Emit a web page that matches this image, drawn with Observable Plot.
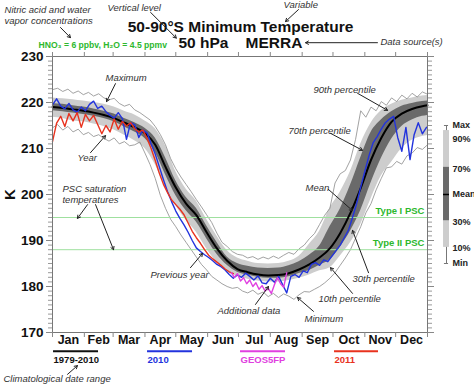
<!DOCTYPE html>
<html><head><meta charset="utf-8">
<script src="https://cdn.jsdelivr.net/npm/d3@7"></script>
<script src="https://cdn.jsdelivr.net/npm/@observablehq/plot@0.6"></script>
<style>body{margin:0;background:#fff}#chart svg{overflow:visible}</style>
</head><body><div id="chart"></div>
<script>
// ---------- data ----------
const months = ["Jan","Feb","Mar","Apr","May","Jun","Jul","Aug","Sep","Oct","Nov","Dec"];
const monthStart = [0,31,59,90,120,151,181,212,243,273,304,334,365];
const yMajor = [170,180,190,200,210,220,230];
const pscTypeI = 195, pscTypeII = 188;

// climatology 1979-2010, every 10 days (+ day 365)
const climDays = d3.range(0, 361, 10).concat([365]);
const climMean = [219.0,218.8,218.5,218.2,217.8,217.3,216.6,215.6,214.6,213.3,210.8,206.0,201.5,198.0,195.5,191.8,188.3,185.6,183.8,183.1,182.6,182.4,182.5,182.9,183.7,184.8,186.3,188.3,191.6,196.0,201.4,207.5,212.3,215.8,217.6,218.6,219.2,219.4];
const climP10 = [216.8,216.5,216.0,215.8,215.3,214.8,214.0,212.9,211.7,210.0,206.5,201.5,197.6,194.4,191.8,188.2,185.2,183.2,182.2,181.6,181.2,181.0,181.0,181.3,181.8,182.5,183.4,184.1,186.6,189.5,193.5,199.0,204.0,207.0,210.0,211.8,212.6,212.8];
const climP30 = [218.2,218.0,217.7,217.4,217.0,216.5,215.8,214.7,213.6,212.2,209.2,204.3,199.8,196.5,194.0,190.4,187.0,184.6,183.1,182.5,182.0,181.8,181.8,182.1,182.8,183.5,184.6,185.8,188.5,192.0,196.5,202.5,207.8,212.0,214.8,216.2,217.0,217.2];
const climP70 = [219.8,219.6,219.3,219.0,218.6,218.1,217.5,216.5,215.6,214.4,212.3,208.0,203.0,199.4,197.0,193.2,189.6,186.4,185.0,184.4,184.0,183.9,184.0,184.5,185.4,186.8,188.8,193.0,196.8,202.0,208.0,213.5,216.2,218.0,219.2,219.8,220.2,220.3];
const climP90 = [221.0,220.8,220.6,220.3,220.0,219.6,219.0,218.1,217.3,216.0,214.3,210.6,205.0,201.2,198.6,194.6,191.0,187.8,186.2,185.5,185.0,184.9,185.0,185.5,186.6,189.2,192.0,197.0,200.5,205.0,211.0,215.5,218.2,219.6,220.5,221.0,221.4,221.5];

// climatological max / min, every 5 days
const extDays = d3.range(0, 366, 5);
const climMax = [222.8,223.1,222.4,222.9,222.0,222.5,221.7,222.2,221.4,221.9,221.0,220.6,220.9,219.8,219.2,219.6,218.4,217.8,217.0,216.2,214.8,213.0,210.8,207.8,205.6,203.8,202.2,200.6,198.9,197.3,195.6,193.9,191.6,189.6,188.7,187.6,187.0,186.8,186.2,186.5,185.9,186.4,186.0,186.6,186.1,186.8,187.4,187.0,188.2,189.0,190.4,191.5,193.5,195.5,197.0,202.5,204.5,205.2,207.5,212.0,218.2,216.8,219.0,218.2,220.2,219.4,221.0,220.2,221.6,220.8,222.0,221.2,222.3,221.8];
const climMin = [214.5,215.2,214.0,214.8,213.6,214.2,213.0,213.5,212.6,213.0,212.2,211.6,212.3,211.0,211.5,210.6,210.8,211.4,209.0,206.5,203.5,199.8,197.0,194.6,193.0,191.2,189.6,188.0,186.4,184.8,183.6,182.2,181.4,180.6,180.0,179.6,179.8,179.0,178.6,179.2,178.3,178.8,177.8,178.5,177.6,178.4,177.9,177.2,178.2,178.9,178.8,179.4,180.0,180.8,181.8,183.0,184.6,186.2,188.0,190.5,193.0,196.0,198.0,201.0,203.5,205.8,206.0,207.2,206.6,208.4,209.0,210.2,209.8,210.8];

// 2010 (previous year), every 4 days
const days2010 = d3.range(0, 365, 4);
const t2010 = [219.5,220.8,219.2,218.6,219.8,218.4,217.9,219.0,218.2,219.6,220.3,218.7,219.2,218.0,217.2,216.6,217.8,216.5,212.0,215.6,215.2,212.4,214.0,213.4,211.0,208.8,206.0,203.2,200.6,198.4,196.4,194.8,193.4,191.8,190.0,188.4,187.6,186.9,186.3,185.6,184.8,184.3,183.6,182.6,181.8,182.5,182.0,182.9,182.2,181.4,182.3,180.8,180.6,181.8,180.9,182.2,180.4,178.6,182.2,182.6,182.0,183.4,183.0,184.8,185.2,184.6,185.8,185.4,186.6,187.8,189.0,190.6,192.2,195.0,198.0,201.6,205.0,208.4,211.2,212.6,214.2,215.6,216.4,217.0,212.4,209.4,214.6,207.6,213.0,215.6,213.2,214.6];

// 2011 (MERRA), every 4 days
const days2011 = d3.range(0, 177, 4);
const t2011 = [211.5,215.5,217.0,214.8,217.6,216.0,217.8,214.6,217.4,216.0,217.2,215.2,213.2,215.0,213.6,216.4,214.2,215.9,214.9,215.6,214.3,213.6,214.0,212.2,210.0,207.4,204.6,202.2,200.4,198.8,197.8,196.8,195.6,193.8,192.0,190.6,189.4,188.0,186.8,186.0,185.3,184.6,183.8,183.2,182.8];

// 2011 additional data (GEOS5FP), every 3 days
const daysGeos = d3.range(174, 229, 3);
const tGeos = [183.0,182.0,182.8,181.2,181.9,180.6,181.4,180.0,180.8,179.4,180.2,179.0,179.6,178.5,180.4,181.9,180.6,179.8,183.0];

// ---------- tables ----------
const clim = climDays.map((d,i)=>({d, m:climMean[i], p10:climP10[i], p30:climP30[i], p70:climP70[i], p90:climP90[i]}));
const ext = extDays.map((d,i)=>({d, max:climMax[i], min:climMin[i]}));
const s2010 = days2010.map((d,i)=>({d, t:t2010[i]}));
const s2011 = days2011.map((d,i)=>({d, t:t2011[i]}));
const sGeos = daysGeos.map((d,i)=>({d, t:tGeos[i]}));
const monthMid = months.map((m,i)=>(monthStart[i]+monthStart[i+1])/2);
const monthLabel = new Map(monthMid.map((d,i)=>[d, months[i]]));

// ---------- annotations (day of year, kelvin) ----------
const notes = [
  {x:-46.7, y:240.2, t:"Nitric acid and water"},
  {x:-46.7, y:237.8, t:"vapor concentrations"},
  {x:53.5, y:240.6, t:"Vertical level"},
  {x:224.8, y:241.1, t:"Variable"},
  {x:319.2, y:233.2, t:"Data source(s)"},
  {x:51.6, y:225.4, t:"Maximum"},
  {x:24.3, y:208.0, t:"Year"},
  {x:9.7, y:201.3, t:"PSC saturation"},
  {x:9.7, y:198.9, t:"temperatures"},
  {x:95.4, y:182.6, t:"Previous year"},
  {x:160.6, y:174.6, t:"Additional data"},
  {x:245.3, y:173.0, t:"Minimum"},
  {x:258.9, y:177.2, t:"10th percentile"},
  {x:292.0, y:181.7, t:"30th percentile"},
  {x:246.3, y:201.5, t:"Mean"},
  {x:229.7, y:213.9, t:"70th percentile"},
  {x:254.0, y:222.8, t:"90th percentile"},
  {x:-47.7, y:159.8, t:"Climatological date range"}
];
const arrows = [
  [7.8,236.3,17.5,234.1],[95.4,239.6,120.5,234.0],[239.4,240.2,226.8,237.6],
  [316.3,233.0,246.3,233.0],[61.3,224.1,52.6,220.2],[37.0,209.1,51.6,212.8],
  [34.1,197.8,24.3,194.8],[41.9,197.8,59.4,188.0],[134.3,184.1,146.0,187.2],
  [197.6,176.1,210.2,180.0],[254.0,174.6,238.5,177.6],[292.0,178.5,270.6,184.1],
  [307.6,183.0,292.0,192.2],[268.6,201.1,292.0,196.5],[270.6,213.3,301.7,209.6],
  [296.9,222.0,326.1,218.3],[14.6,160.9,24.3,162.8]
].map(([x1,y1,x2,y2])=>({x1,y1,x2,y2}));
const bottomKey = [
  {label:"1979-2010", color:"#111111", x1:1.0, x2:44.8},
  {label:"2010", color:"#2233dd", x1:92.5, x2:136.3},
  {label:"GEOS5FP", color:"#e040e0", x1:183.0, x2:226.8},
  {label:"2011", color:"#e8321e", x1:274.5, x2:317.3}
];
const sideKey = [
  {label:"Max", y:215.0},{label:"90%", y:212.0},{label:"70%", y:205.6},
  {label:"Mean", y:200.0},{label:"30%", y:193.9},{label:"10%", y:188.3},{label:"Min", y:185.0}
];

const gridGray = "#8a8a8a";
const plot = Plot.plot({
  width: 474, height: 388,
  marginLeft: 52, marginRight: 47, marginTop: 56, marginBottom: 56,
  style: {fontFamily: "Liberation Sans, Arial, Helvetica, sans-serif", background: "#fff", overflow: "visible"},
  x: {domain: [0, 365], axis: null},
  y: {domain: [170, 230], axis: null},
  color: {type: "identity"},
  marks: [
    Plot.areaY(clim, {x:"d", y1:"p10", y2:"p90", fill:"#cdcdcd", curve:"monotone-x"}),
    Plot.areaY(clim, {x:"d", y1:"p30", y2:"p70", fill:"#6a6a6a", curve:"monotone-x"}),
    Plot.line(ext, {x:"d", y:"max", stroke:gridGray, strokeWidth:0.8}),
    Plot.line(ext, {x:"d", y:"min", stroke:gridGray, strokeWidth:0.8}),
    Plot.ruleY([pscTypeI, pscTypeII], {stroke:"#9fe09f", strokeWidth:1}),
    Plot.line(clim, {x:"d", y:"m", stroke:"#000", strokeWidth:2, curve:"monotone-x"}),
    Plot.line(s2010, {x:"d", y:"t", stroke:"#2233dd", strokeWidth:1.4}),
    Plot.line(s2011, {x:"d", y:"t", stroke:"#e8321e", strokeWidth:1.4}),
    Plot.line(sGeos, {x:"d", y:"t", stroke:"#e040e0", strokeWidth:1.4}),
    Plot.text([{t:"Type I PSC", y:pscTypeI}, {t:"Type II PSC", y:pscTypeII}], {x:362, y:"y", text:"t", dy:-7, textAnchor:"end", fill:"#2db82d", fontWeight:"bold", fontSize:9.5}),
    Plot.frame({stroke:"#777"}),
    // axes
    Plot.axisY(d3.range(170, 231), {anchor:"left", tickSize:4, tickFormat:()=>"", stroke:"#999"}),
    Plot.axisY(d3.range(170, 231), {anchor:"right", tickSize:4, tickFormat:()=>"", stroke:"#999"}),
    Plot.axisY(yMajor, {anchor:"left", tickSize:6, tickPadding:3, stroke:"#888", fill:"#111", fontSize:13.5, fontWeight:"bold"}),
    Plot.axisY(yMajor, {anchor:"right", tickSize:6, tickFormat:()=>"", stroke:"#888"}),
    Plot.axisX(monthStart, {anchor:"bottom", tickSize:5, tickFormat:()=>"", stroke:"#888"}),
    Plot.axisX(monthStart, {anchor:"top", tickSize:5, tickFormat:()=>"", stroke:"#888"}),
    Plot.axisX(monthMid, {anchor:"bottom", tickSize:0, tickPadding:3, tickFormat:d=>monthLabel.get(d), fill:"#111", fontSize:12.5, fontWeight:"bold"}),
    Plot.text(["K"], {x:-40.9, y:200, text:d=>d, rotate:-90, fontSize:15, fontWeight:"bold", fill:"#111"}),
    // titles
    Plot.text(["50-90°S Minimum Temperature"], {x:183, y:236.4, text:d=>d, fontSize:15.5, fontWeight:"bold", fill:"#111"}),
    Plot.text(["50 hPa"], {x:122.6, y:233.0, text:d=>d, textAnchor:"start", fontSize:15.5, fontWeight:"bold", fill:"#111"}),
    Plot.text(["MERRA"], {x:187.9, y:233.0, text:d=>d, textAnchor:"start", fontSize:15.5, fontWeight:"bold", fill:"#111"}),
    Plot.text(["HNO₃ = 6 ppbv, H₂O = 4.5 ppmv"], {x:-13.6, y:232.4, text:d=>d, textAnchor:"start", fontSize:8.6, fontWeight:"bold", fill:"#2db82d"}),
    // annotations
    Plot.text(notes, {x:"x", y:"y", text:"t", textAnchor:"start", fontStyle:"italic", fontSize:9.5, fill:"#333"}),
    Plot.arrow(arrows, {x1:"x1", y1:"y1", x2:"x2", y2:"y2", stroke:"#222", strokeWidth:1, headLength:5}),
    // bottom key
    Plot.ruleY(bottomKey, {y:165.9, x1:"x1", x2:"x2", stroke:"color", strokeWidth:2}),
    Plot.text(bottomKey, {x:"x1", y:164.0, text:"label", textAnchor:"start", fill:"color", fontWeight:"bold", fontSize:9.5}),
    // side key
    Plot.ruleX([383.5], {y1:185.0, y2:215.0, stroke:"#777"}),
    Plot.ruleY([185.0, 215.0], {x1:381.5, x2:385.5, stroke:"#777"}),
    Plot.rect([{x1:380.6, x2:386.4, y1:188.5, y2:213.9}], {x1:"x1", x2:"x2", y1:"y1", y2:"y2", fill:"#cdcdcd"}),
    Plot.rect([{x1:380.6, x2:386.4, y1:194.3, y2:205.9}], {x1:"x1", x2:"x2", y1:"y1", y2:"y2", fill:"#6a6a6a"}),
    Plot.ruleY([200], {x1:380.6, x2:386.4, stroke:"#000", strokeWidth:1.5}),
    Plot.text(sideKey, {x:389.3, y:"y", text:"label", textAnchor:"start", fontWeight:"bold", fontSize:9, fill:"#222"})
  ]
});
document.getElementById("chart").appendChild(plot);
</script></body></html>
